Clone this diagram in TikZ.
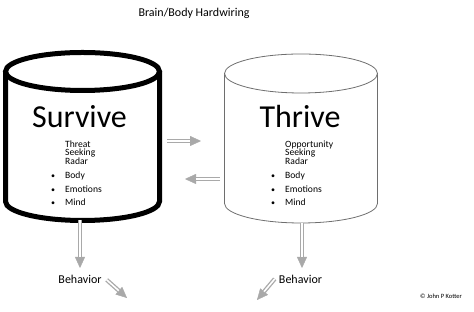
\documentclass[tikz,border=0pt]{standalone}
\usepackage{fontspec}
\setmainfont{Carlito}
\usetikzlibrary{positioning, arrows.meta}
\definecolor{arrowGray}{HTML}{A9A9A9}
\definecolor{rimGray}{HTML}{6E6E6E}

\begin{document}
\begin{tikzpicture}[x=1pt, y=1pt,
  big/.style={font=\fontsize{32}{36}\selectfont, inner sep=0pt, anchor=base},
  lbl/.style={font=\fontsize{12}{12}\selectfont, inner sep=0pt, anchor=base},
  itm/.style={font=\fontsize{9.6}{9}\selectfont, inner sep=0pt, anchor=base west},
  dot/.style={font=\fontsize{8}{8}\selectfont, inner sep=0pt, anchor=base},
  dbl/.style={draw=arrowGray, line width=4.2pt, -{Triangle[length=11pt, width=10pt, line width=0.4pt]},
    postaction={draw=white, line width=1.6pt, shorten >=11pt, -}}]
\useasboundingbox (0,0) rectangle (474,312);
% survive tank
\draw[line width=5pt, fill=white] (5.5,240.5) -- (5.5,110.5) arc[start angle=180, end angle=360, x radius=77, y radius=19] -- (159.5,240.5);
\draw[line width=5pt, fill=white] (82.5,240.5) ellipse[x radius=77, y radius=19];
% thrive tank
\draw[draw=rimGray, line width=0.8pt, fill=white] (224.5,238.5) -- (224.5,108.5) arc[start angle=180, end angle=360, x radius=76.5, y radius=19.5] -- (377.5,238.5);
\draw[draw=rimGray, line width=0.8pt, fill=white] (301,238.5) ellipse[x radius=76.5, y radius=19.5];
\coordinate (sbot) at (80,92);
\coordinate (tbot) at (302,89);
% titles
\node[lbl] (title) at (194,295) {Brain/Body Hardwiring};
\node[big] (survive) at (79.5,184) {Survive};
\node[big] (thrive) at (300,184) {Thrive};
% survive radar
\node[itm] (threat) at (65,164.5) {Threat};
\node[itm] (sseek) at (65,156) {Seeking};
\node[itm] (sradar) at (65,147) {Radar};
\node[itm] (sbody) at (65,133) {Body};
\node[itm] (semo) at (65,119.7) {Emotions};
\node[itm] (smind) at (65,106.7) {Mind};
\node[dot] at (53,133) {\textbullet}; \node[dot] at (53,119.7) {\textbullet}; \node[dot] at (53,106.7) {\textbullet};
% thrive radar
\node[itm] (oppo) at (285,164.5) {Opportunity};
\node[itm] (tseek) at (285,156) {Seeking};
\node[itm] (tradar) at (285,147) {Radar};
\node[itm] (tbody) at (285,133) {Body};
\node[itm] (temo) at (285,119.7) {Emotions};
\node[itm] (tmind) at (285,106.7) {Mind};
\node[dot] at (273,133) {\textbullet}; \node[dot] at (273,119.7) {\textbullet}; \node[dot] at (273,106.7) {\textbullet};
% behaviour
\node[lbl] (behS) at (80,28) {Behavior};
\node[lbl] (behT) at (300.5,28) {Behavior};
\node[font=\fontsize{6.5}{6.5}\selectfont, inner sep=0pt] (copy) at (441,16) {© John P Kotter};
% arrows
\coordinate (sOut) at (167,171); \coordinate (tIn) at (201,171);
\coordinate (tOut) at (220,133); \coordinate (sIn) at (185,133);
\coordinate (sDown) at (80,44); \coordinate (tDown) at (302,44);
\coordinate (sGo) at (127,14); \coordinate (tGo) at (257,12);
\draw[dbl] (sOut) -- (tIn);
\draw[dbl] (tOut) -- (sIn);
\draw[dbl] (sbot) -- (sDown);
\draw[dbl] (tbot) -- (tDown);
\draw[dbl] ([xshift=5pt,yshift=0pt]behS.east) -- (sGo);
\draw[dbl] ([xshift=-4pt,yshift=1pt]behT.west) -- (tGo);
\end{tikzpicture}
\end{document}
